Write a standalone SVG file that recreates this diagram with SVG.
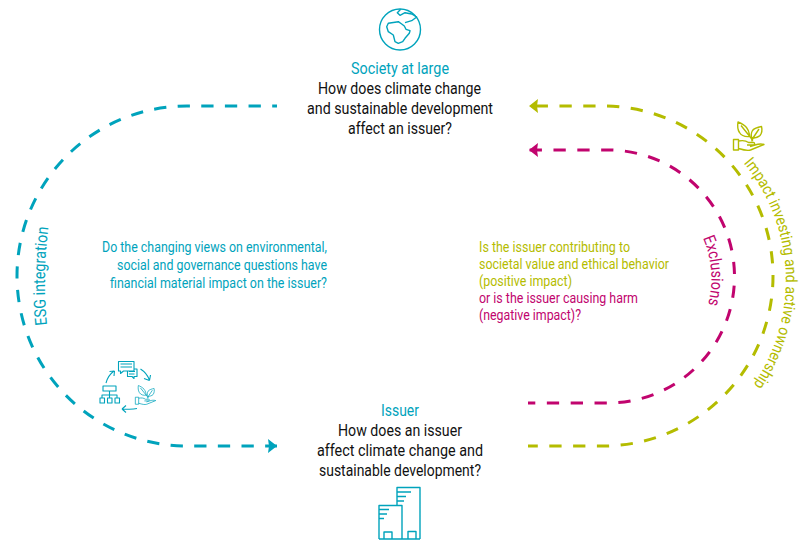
<svg xmlns="http://www.w3.org/2000/svg" width="800" height="548" viewBox="0 0 800 548">
<style>
text{font-family:Roboto,"Liberation Sans",sans-serif;font-size:16.5px}
.s{font-size:15px}
.t{fill:#00A3BC}.g{fill:#B4BC00}.m{fill:#C1046E}.k{fill:#111}
.c{fill:none;stroke-width:3}
.i{fill:none;stroke-width:1.4;stroke-linejoin:round}
.it{stroke:#00A3BC}.ig{stroke:#B4BC00}
.th{stroke-width:1.1}
</style>
<defs>
<marker id="at" markerUnits="userSpaceOnUse" markerWidth="12" markerHeight="16" refX="10" refY="7" orient="auto"><path d="M1 0L10 7L1 14L2 7Z" fill="#00A3BC"/></marker>
<marker id="ag" markerUnits="userSpaceOnUse" markerWidth="12" markerHeight="16" refX="10" refY="7" orient="auto"><path d="M1 0L10 7L1 14L2 7Z" fill="#B4BC00"/></marker>
<marker id="am" markerUnits="userSpaceOnUse" markerWidth="12" markerHeight="16" refX="10" refY="7" orient="auto"><path d="M1 0L10 7L1 14L2 7Z" fill="#C1046E"/></marker>
<g id="plant">
<path d="M733.500 139.500h5v10.500h-5zM738.500 141c4-.8 7.500-.5 10 1.500h5c1.500 0 1.500 2.500-.5 2.500h-6M738.500 148.500c5 1.500 9 2.500 12 1.500l13.500-5.500c-3-1-6-.5-9 .5l-5 1.500"/>
<path d="M750 136.500c-1-3-1-6-3.500-9-2-2.500-6-4.500-8.500-5.500-.5 3-.5 7.500 1.500 10.500 2 3.500 6 4.500 10.500 4zM741 125.500l12 15"/>
<path d="M752 138.500c3-.5 6-1 8-3 2-2.500 2-7 1.500-9-3 .5-7 1.500-9 4-1.500 2.500-1.500 5.500-.5 8zM759 129l-7 10.500v2"/>
</g>
<path id="arcImpact" d="M743.500 163A184 184 0 0 1 752.500 386"/>
<path id="arcExcl" d="M703 238A102 102 0 0 1 705 314"/>
<path id="arcEsg" d="M47 325Q42 275 49 222"/>
</defs>
<g id="connectors">
<path class="c" stroke="#00A3BC" stroke-dasharray="12.300 11.350" stroke-dashoffset="7.500" d="M277 106H187A170 170 0 0 0 187 446H277" marker-end="url(#at)"/>
<path class="c" stroke="#B4BC00" stroke-dasharray="12.300 11.500" stroke-dashoffset="2.500" d="M528 446H603A170 170 0 0 0 603 106H529" marker-end="url(#ag)"/>
<path class="c" stroke="#C1046E" stroke-dasharray="12.300 11.540" stroke-dashoffset="5" d="M528 403H608A126.500 126.500 0 0 0 608 150H529" marker-end="url(#am)"/>
</g>
<g id="society">
<g class="i it"><circle cx="400" cy="29.500" r="20.500"/><path d="M386.700 26.700L388.300 23.300L398.300 21.700L401.700 24L404.300 26L406 29.300L410 30.700L409.300 33.300L405 38.300L402.700 41.700L398.300 43.300L395 41.700L393.300 35L388.300 31.700ZM400.700 9.300L397.300 12.700L400 15.300L405 12.700L411.700 14L416.700 17L411.700 20.700L405 22.700"/></g>
<text class="t" x="351" y="74" textLength="98" lengthAdjust="spacingAndGlyphs">Society at large</text>
<text class="k" x="318" y="94" textLength="163" lengthAdjust="spacingAndGlyphs">How does climate change</text>
<text class="k" x="307" y="114" textLength="186" lengthAdjust="spacingAndGlyphs">and sustainable development</text>
<text class="k" x="348" y="134" textLength="104" lengthAdjust="spacingAndGlyphs">affect an issuer?</text>
</g>
<g id="issuer">
<text class="t" x="381" y="416" textLength="38" lengthAdjust="spacingAndGlyphs">Issuer</text>
<text class="k" x="338" y="436" textLength="124" lengthAdjust="spacingAndGlyphs">How does an issuer</text>
<text class="k" x="317" y="456" textLength="166" lengthAdjust="spacingAndGlyphs">affect climate change and</text>
<text class="k" x="319" y="476" textLength="162" lengthAdjust="spacingAndGlyphs">sustainable development?</text>
<g class="i it"><path d="M397 505V487.500H420V539M379 539V505.500H402V539M379 539H420M384 539V532H392V539M408 539V531.500H416V539M397 492H411M397 496.500H406M397 501H404M379 509.500H389M379 514H387M379 518.500H384"/></g>
</g>
<g id="esg">
<text class="t s" x="102" y="252" textLength="225" lengthAdjust="spacingAndGlyphs">Do the changing views on environmental,</text>
<text class="t s" x="117" y="270" textLength="210" lengthAdjust="spacingAndGlyphs">social and governance questions have</text>
<text class="t s" x="110" y="288" textLength="217" lengthAdjust="spacingAndGlyphs">financial material impact on the issuer?</text>
<text class="t"><textPath href="#arcEsg" textLength="98" lengthAdjust="spacingAndGlyphs">ESG integration</textPath></text>
<g class="i it th">
<path d="M118.500 361.500H134V371H123.500L120.500 373.500V371H118.500ZM120.500 364H132M120.500 367H132M127.500 371V376.500H132L134 378.500V376.500H137V369H134M129 371.500H135M129 374H134.500"/>
<path d="M140.500 369c4 2.500 7 6 9 11M149.500 380.500l1-5.500M149.500 380.500l-5.500-2M106 383c1-4 4-9 8-12M114.500 371l-5 .5M114.500 371l-.5 5M137 408.500c-4 1-8 1-14 .5M122 409l4-3.500M122 409l4 3.500"/>
<path d="M103 386H116V391H103ZM109.500 391V395M102 398V395H117V398M109.500 395V398M100 398H104.500V403H100ZM107.500 398H112V403H107.500ZM115 398H119.500V403H115Z"/>
<use href="#plant" transform="translate(135 385.500) scale(.67) translate(-733 -122)"/>
</g>
</g>
<g id="impact">
<g class="i ig"><use href="#plant"/></g>
<text class="g" style="font-size:16px"><textPath href="#arcImpact" textLength="238" lengthAdjust="spacingAndGlyphs">Impact investing and active ownership</textPath></text>
<text class="g s" x="479" y="252" textLength="151" lengthAdjust="spacingAndGlyphs">Is the issuer contributing to</text>
<text class="g s" x="479" y="269" textLength="190" lengthAdjust="spacingAndGlyphs">societal value and ethical behavior</text>
<text class="g s" x="479" y="286" textLength="93" lengthAdjust="spacingAndGlyphs">(positive impact)</text>
</g>
<g id="exclusions">
<text class="m"><textPath href="#arcExcl" textLength="68" lengthAdjust="spacingAndGlyphs">Exclusions</textPath></text>
<text class="m s" x="479" y="303" textLength="159" lengthAdjust="spacingAndGlyphs">or is the issuer causing harm</text>
<text class="m s" x="479" y="320" textLength="102" lengthAdjust="spacingAndGlyphs">(negative impact)?</text>
</g>
</svg>
